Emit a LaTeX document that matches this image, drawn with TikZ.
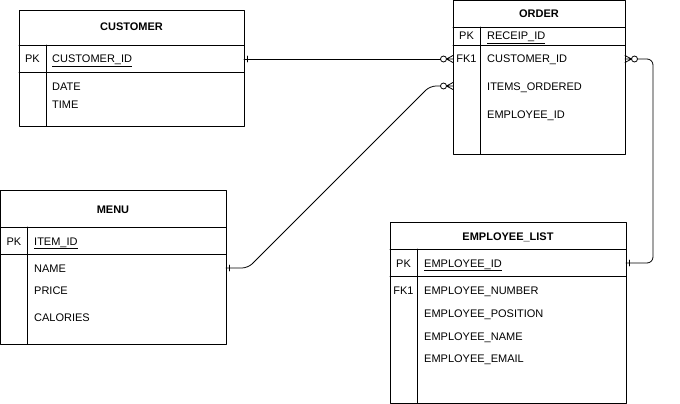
\documentclass[tikz,border=0pt]{standalone}
\usepackage{fontspec}
\setmainfont{Liberation Sans}

% crow's foot (zero or many) and bar (exactly one)
\pgfdeclarearrow{
  name = zmany,
  setup code = {
    \pgfarrowssettipend{0pt}
    \pgfarrowssetlineend{-12.5pt}
    \pgfarrowssetbackend{-12.5pt}
    \pgfarrowsupperhullpoint{0pt}{3.5pt}
    \pgfarrowsupperhullpoint{-12.5pt}{3pt}
  },
  drawing code = {
    \pgfpathcircle{\pgfqpoint{-9.5pt}{0pt}}{3pt}
    \pgfpathmoveto{\pgfqpoint{-6.5pt}{0pt}}
    \pgfpathlineto{\pgfqpoint{0pt}{0pt}}
    \pgfpathmoveto{\pgfqpoint{0pt}{3.5pt}}
    \pgfpathlineto{\pgfqpoint{-6.5pt}{0pt}}
    \pgfpathlineto{\pgfqpoint{0pt}{-3.5pt}}
    \pgfusepathqstroke
  }
}
\pgfdeclarearrow{
  name = onemark,
  setup code = {
    \pgfarrowssettipend{0pt}
    \pgfarrowssetlineend{0pt}
    \pgfarrowssetbackend{-5pt}
    \pgfarrowsupperhullpoint{0pt}{3pt}
    \pgfarrowsupperhullpoint{-5pt}{3pt}
  },
  drawing code = {
    \pgfpathmoveto{\pgfqpoint{-3.5pt}{3pt}}
    \pgfpathlineto{\pgfqpoint{-3.5pt}{-3pt}}
    \pgfusepathqstroke
  }
}

\begin{document}
\begin{tikzpicture}[x=1pt,y=-1pt,line cap=round,line join=round,
  font=\fontsize{11}{13}\selectfont,
  tbl/.style={draw,line width=0.8pt,inner sep=0,outer sep=0,anchor=north west},
  ttl/.style={font=\fontsize{11}{13}\selectfont\bfseries,text height=8pt,text depth=0pt},
  key/.style={inner sep=1pt,text height=8pt,text depth=0pt},
  fld/.style={anchor=west,inner sep=0,text height=8pt,text depth=0pt},
  rel/.style={line width=0.8pt,rounded corners=6pt}]
\useasboundingbox (0,0) rectangle (680,404);

% CUSTOMER
\node[tbl,minimum width=225pt,minimum height=116pt] (customer) at (19,10) {};
\draw [line width=0.8pt] (customer.west |- 0,45)--(customer.east |- 0,45);
\draw [line width=0.8pt] (customer.west |- 0,72)--(customer.east |- 0,72);
\draw [line width=0.8pt] (46,45)--(customer.south -| 46,0);
\node[ttl] (customerttl) at (131.5,27) {CUSTOMER};
\node[key] (customerpk) at (32.5,59) {PK};
\node[fld] (customerid) at (52,59) {\underline{CUSTOMER\_ID}};
\node[fld] (customerdate) at (52,87) {DATE};
\node[fld] (customertime) at (52,104) {TIME};

% ORDER
\node[tbl,minimum width=172pt,minimum height=153.5pt] (order) at (453,0.5) {};
\draw [line width=0.8pt] (order.west |- 0,27)--(order.east |- 0,27);
\draw [line width=0.8pt] (order.west |- 0,45)--(order.east |- 0,45);
\draw [line width=0.8pt] (480,27)--(order.south -| 480,0);
\node[ttl] (orderttl) at (539,14) {ORDER};
\node[key] (orderpk) at (466.5,36) {PK};
\node[fld] (orderid) at (487,36) {\underline{RECEIP\_ID}};
\node[key] (orderfk) at (466.5,59) {FK1};
\node[fld] (ordercust) at (487,59) {CUSTOMER\_ID};
\node[fld] (orderitems) at (487,86) {ITEMS\_ORDERED};
\node[fld] (orderemp) at (487,114) {EMPLOYEE\_ID};

% MENU
\node[tbl,minimum width=225.5pt,minimum height=154pt] (menu) at (0.5,190) {};
\draw [line width=0.8pt] (menu.west |- 0,227)--(menu.east |- 0,227);
\draw [line width=0.8pt] (menu.west |- 0,254)--(menu.east |- 0,254);
\draw [line width=0.8pt] (27,227)--(menu.south -| 27,0);
\node[ttl] (menuttl) at (113,209) {MENU};
\node[key] (menupk) at (14,241) {PK};
\node[fld] (menuid) at (34,241) {\underline{ITEM\_ID}};
\node[fld] (menuname) at (34,268) {NAME};
\node[fld] (menuprice) at (34,290) {PRICE};
\node[fld] (menucal) at (34,317) {CALORIES};

% EMPLOYEE_LIST
\node[tbl,minimum width=236pt,minimum height=181pt] (employee) at (390,222) {};
\draw [line width=0.8pt] (employee.west |- 0,249)--(employee.east |- 0,249);
\draw [line width=0.8pt] (employee.west |- 0,276)--(employee.east |- 0,276);
\draw [line width=0.8pt] (417,249)--(employee.south -| 417,0);
\node[ttl] (employeettl) at (508,236) {EMPLOYEE\_LIST};
\node[key] (employeepk) at (403.5,263) {PK};
\node[fld] (employeeid) at (424,263) {\underline{EMPLOYEE\_ID}};
\node[key] (employeefk) at (403.5,290) {FK1};
\node[fld] (employeenum) at (424,290) {EMPLOYEE\_NUMBER};
\node[fld] (employeepos) at (424,313) {EMPLOYEE\_POSITION};
\node[fld] (employeename) at (424,336) {EMPLOYEE\_NAME};
\node[fld] (employeemail) at (424,358) {EMPLOYEE\_EMAIL};

% relations
\draw [rel,onemark-zmany] (customerid -| customer.east)--(ordercust -| order.west);
\draw [rel,onemark-zmany] (menuname -| menu.east)--(248,0 |- menuname)--(430,0 |- orderitems)--(orderitems -| order.west);
\draw [rel,zmany-onemark] (ordercust -| order.east)--(653,0 |- ordercust)--(653,0 |- employeeid)--(employeeid -| employee.east);
\end{tikzpicture}
\end{document}
